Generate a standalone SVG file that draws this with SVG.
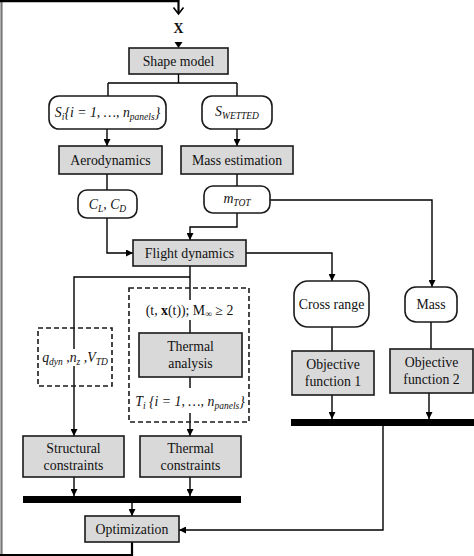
<svg xmlns="http://www.w3.org/2000/svg" width="474" height="556" viewBox="0 0 474 556">
<defs>
<marker id="arr" viewBox="0 0 10 10" refX="10" refY="5" markerWidth="7" markerHeight="7" markerUnits="userSpaceOnUse" orient="auto">
<path d="M0,0 L10,5 L0,10 z" fill="#000"/>
</marker>
<style>
.box{fill:#d9d9d9;stroke:#1a1a1a;stroke-width:1.6}
.rbox{fill:#fff;stroke:#1a1a1a;stroke-width:1.6}
.dash{fill:none;stroke:#1a1a1a;stroke-width:1.6;stroke-dasharray:5,3}
.ln{fill:none;stroke:#000;stroke-width:1.4}
.ar{fill:none;stroke:#000;stroke-width:1.4;marker-end:url(#arr)}
text{font-family:"Liberation Serif","Times New Roman",serif;font-size:13.8px;fill:#111;text-anchor:middle}
.it{font-style:italic}
.sub{font-size:9.5px}
</style>
</defs>
<rect width="474" height="556" fill="#fff"/>

<g id="connectors">
<line x1="1.5" y1="0" x2="1.5" y2="556" stroke="#777" stroke-width="2.2"/>
<path d="M0,1.2 H178.5 V13" fill="none" stroke="#000" stroke-width="2.2"/>
<path d="M173.5,7.5 L178.5,14 L183.5,7.5" fill="none" stroke="#000" stroke-width="1.6"/>
<path d="M174.5,42 L182.5,42 L178.5,48 z" fill="#000"/>
<path class="ln" d="M178.5,74 V83 M108,83 H237 M108,83 V96 M237,83 V96"/>
<path class="ar" d="M107,129 V146"/>
<path class="ar" d="M237,129 V146"/>
<path class="ln" d="M107,174 V190 M237,174 V186"/>
<path class="ar" d="M107,218 V253 H133"/>
<path class="ar" d="M237,213 V227 H190 V240"/>
<path class="ar" d="M270,200 H432 V287"/>
<path class="ar" d="M246,253 H332 V281"/>
<path class="ln" d="M190,266 V300 M190,277 H74 V349"/>
<path class="ar" d="M74,366 V436"/>
<path class="ln" d="M190,320 V333 M190,377 V388"/>
<path class="ar" d="M190,413 V436"/>
<path class="ar" d="M74,477 V496"/>
<path class="ar" d="M190,477 V496"/>
<rect x="23" y="496" width="218" height="7" fill="#000"/>
<path class="ar" d="M132,503 V516"/>
<path class="ln" d="M332,327 V351 M431,322 V349"/>
<path class="ar" d="M332,395 V419"/>
<path class="ar" d="M429,393 V419"/>
<rect x="291" y="419" width="183" height="7" fill="#000"/>
<path class="ar" d="M383,426 V530 H179"/>
<path d="M132,542 V555 H0" fill="none" stroke="#000" stroke-width="2.2"/>
</g>

<g id="x-label"><text x="178.5" y="33" font-weight="bold" font-size="14px">X</text></g>

<g id="shape-model"><rect class="box" x="129" y="48" width="99" height="26"/><text x="178.5" y="66">Shape model</text></g>

<g id="si"><rect class="rbox" x="49" y="96" width="117" height="33" rx="10"/>
<text x="107.5" y="117" class="it" font-size="14px">S<tspan class="sub" dy="3">i</tspan><tspan dy="-3">{i = 1, …, n</tspan><tspan class="sub" dy="3">panels</tspan><tspan dy="-3">}</tspan></text></g>

<g id="swetted"><rect class="rbox" x="202" y="96" width="70" height="33" rx="10"/>
<text x="237" y="116" class="it" font-size="14px">S<tspan class="sub" dy="3">WETTED</tspan></text></g>

<g id="aero"><rect class="box" x="59" y="146" width="103" height="28"/><text x="110.5" y="165">Aerodynamics</text></g>

<g id="mass-est"><rect class="box" x="181" y="146" width="112" height="28"/><text x="237" y="165">Mass estimation</text></g>

<g id="cl-cd"><rect class="rbox" x="78" y="190" width="59" height="28" rx="9"/>
<text x="107.5" y="209" class="it" font-size="14px">C<tspan class="sub" dy="3">L</tspan><tspan dy="-3">, C</tspan><tspan class="sub" dy="3">D</tspan></text></g>

<g id="mtot"><rect class="rbox" x="204" y="186" width="66" height="27" rx="9"/>
<text x="237" y="203" class="it" font-size="14px">m<tspan class="sub" dy="3">TOT</tspan></text></g>

<g id="flight-dyn"><rect class="box" x="133" y="240" width="113" height="26"/><text x="189.5" y="258">Flight dynamics</text></g>

<g id="loads"><rect class="dash" x="38" y="328" width="74" height="58"/>
<text x="75" y="362" class="it" font-size="14px">q<tspan class="sub" dy="3">dyn</tspan><tspan dy="-3"> ,n</tspan><tspan class="sub" dy="3">z</tspan><tspan dy="-3"> ,V</tspan><tspan class="sub" dy="3">TD</tspan></text></g>

<g id="thermal-group"><rect class="dash" x="129" y="288" width="120" height="134"/>
<text x="189.5" y="315">(t, <tspan font-weight="bold">x</tspan>(t)); M<tspan class="sub" dy="2">∞</tspan><tspan dy="-2"> ≥ 2</tspan></text>
<rect class="box" x="139" y="333" width="103" height="44"/>
<text x="190.5" y="351">Thermal</text><text x="190.5" y="368">analysis</text>
<text x="190" y="406" class="it" font-size="14px">T<tspan class="sub" dy="3">i</tspan><tspan dy="-3"> {i = 1, …, n</tspan><tspan class="sub" dy="3">panels</tspan><tspan dy="-3">}</tspan></text></g>

<g id="cross-range"><rect class="rbox" x="294" y="281" width="75" height="46" rx="14"/><text x="331.5" y="309">Cross range</text></g>

<g id="mass"><rect class="rbox" x="405" y="287" width="52" height="35" rx="11"/><text x="431" y="309">Mass</text></g>

<g id="obj1"><rect class="box" x="292" y="351" width="82" height="44"/><text x="333" y="369">Objective</text><text x="333" y="386">function  1</text></g>

<g id="obj2"><rect class="box" x="390" y="349" width="83" height="44"/><text x="431.5" y="367">Objective</text><text x="431.5" y="384">function  2</text></g>

<g id="struct-c"><rect class="box" x="23" y="436" width="101" height="41"/><text x="73.5" y="453">Structural</text><text x="73.5" y="470">constraints</text></g>

<g id="therm-c"><rect class="box" x="140" y="436" width="101" height="41"/><text x="190.5" y="453">Thermal</text><text x="190.5" y="470">constraints</text></g>

<g id="optim"><rect class="box" x="85" y="516" width="94" height="26"/><text x="132" y="534">Optimization</text></g>
</svg>
